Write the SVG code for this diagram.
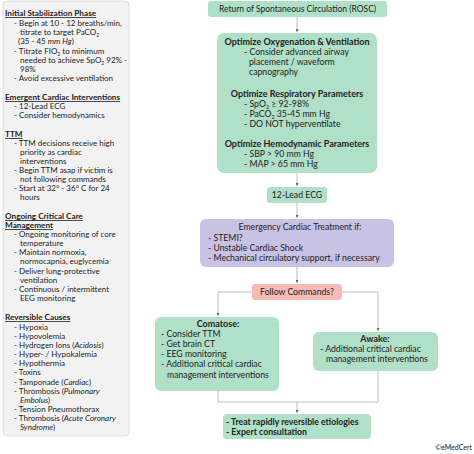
<svg xmlns="http://www.w3.org/2000/svg" width="474" height="454" viewBox="0 0 474 454">
<style>
text{font-family:Lato,"Noto Sans","Liberation Sans",sans-serif;fill:#222;}
.l{font-size:8px;}
.lh{font-size:8.2px;font-weight:bold;text-decoration:underline;}
.t{font-size:8.7px;}
.h{font-size:9px;font-weight:bold;text-anchor:middle;}
.c{text-anchor:middle;}
.g{fill:#b0e0c8;}
.conn{stroke:#bdbdbd;stroke-width:1;fill:none;}
</style>
<defs>
<marker id="ar" viewBox="0 0 4 4" refX="4" refY="2" markerWidth="3" markerHeight="3" orient="auto"><path d="M0,0L4,2L0,4z" fill="#666"/></marker>
</defs>
<rect width="474" height="454" fill="#ffffff"/>
<g id="left-panel">
<rect x="3" y="1" width="126" height="435" rx="4" fill="#f2f2f2" stroke="#d8d8d8" stroke-width="0.8"/>
<text class="lh" x="5" y="16">Initial Stabilization Phase</text>
<text class="l" x="14" y="26">- Begin at 10 - 12 breaths/min,</text>
<text class="l" x="20" y="35">titrate to target PaCO<tspan font-size="5" dy="1.5">2</tspan></text>
<text class="l" x="18" y="44">(35 - 45 <tspan font-style="italic">mm Hg</tspan>)</text>
<text class="l" x="14" y="54">- Titrate FIO<tspan font-size="5" dy="1.5">2</tspan><tspan dy="-1.5"> to minimum</tspan></text>
<text class="l" x="20" y="63">needed to achieve SpO<tspan font-size="5" dy="1.5">2</tspan><tspan dy="-1.5"> 92% -</tspan></text>
<text class="l" x="20" y="72">98%</text>
<text class="l" x="14" y="81">- Avoid excessive ventilation</text>
<text class="lh" x="5" y="100">Emergent Cardiac Interventions</text>
<text class="l" x="14" y="109">- 12-Lead ECG</text>
<text class="l" x="14" y="118">- Consider hemodynamics</text>
<text class="lh" x="5" y="137">TTM</text>
<text class="l" x="14" y="146">- TTM decisions receive high</text>
<text class="l" x="20" y="155">priority as cardiac</text>
<text class="l" x="20" y="164">interventions</text>
<text class="l" x="14" y="173">- Begin TTM asap if victim is</text>
<text class="l" x="20" y="182">not following commands</text>
<text class="l" x="14" y="191">- Start at 32° - 36° C for 24</text>
<text class="l" x="20" y="200">hours</text>
<text class="lh" x="5" y="219">Ongoing Critical Care</text>
<text class="lh" x="5" y="228">Management</text>
<text class="l" x="14" y="237">- Ongoing monitoring of core</text>
<text class="l" x="20" y="246">temperature</text>
<text class="l" x="14" y="255">- Maintain normoxia,</text>
<text class="l" x="20" y="264">normocapnia, euglycemia</text>
<text class="l" x="14" y="274">- Deliver lung-protective</text>
<text class="l" x="20" y="283">ventilation</text>
<text class="l" x="14" y="292">- Continuous / intermittent</text>
<text class="l" x="20" y="301">EEG monitoring</text>
<text class="lh" x="5" y="320">Reversible Causes</text>
<text class="l" x="14" y="330">- Hypoxia</text>
<text class="l" x="14" y="339">- Hypovolemia</text>
<text class="l" x="14" y="348">- Hydrogen Ions (<tspan font-style="italic">Acidosis</tspan>)</text>
<text class="l" x="14" y="357">- Hyper- / Hypokalemia</text>
<text class="l" x="14" y="366">- Hypothermia</text>
<text class="l" x="14" y="375">- Toxins</text>
<text class="l" x="14" y="385">- Tamponade (<tspan font-style="italic">Cardiac</tspan>)</text>
<text class="l" x="14" y="394">- Thrombosis (<tspan font-style="italic">Pulmonary</tspan></text>
<text class="l" x="20" y="403"><tspan font-style="italic">Embolus</tspan>)</text>
<text class="l" x="14" y="412">- Tension Pneumothorax</text>
<text class="l" x="14" y="421">- Thrombosis (<tspan font-style="italic">Acute Coronary</tspan></text>
<text class="l" x="20" y="430"><tspan font-style="italic">Syndrome</tspan>)</text>
</g>
<g id="connectors">
<path class="conn" d="M297,17V32" marker-end="url(#ar)"/>
<path class="conn" d="M297,173V186" marker-end="url(#ar)"/>
<path class="conn" d="M297,203V218" marker-end="url(#ar)"/>
<path class="conn" d="M297,267V283" marker-end="url(#ar)"/>
<path class="conn" d="M252,292H218V316" marker-end="url(#ar)"/>
<path class="conn" d="M342,292H378V331" marker-end="url(#ar)"/>
<path class="conn" d="M218,391V402H378V371"/>
<path class="conn" d="M297,402V413" marker-end="url(#ar)"/>
</g>
<g id="rosc">
<rect class="g" x="208" y="1" width="179" height="16" rx="3"/>
<text class="c" font-size="8.5" x="297.5" y="12">Return of Spontaneous Circulation (ROSC)</text>
</g>
<g id="optimize">
<rect class="g" x="217" y="33" width="160" height="140" rx="7"/>
<text class="h" x="297" y="45">Optimize Oxygenation &amp; Ventilation</text>
<text class="t" x="244" y="55">- Consider advanced airway</text>
<text class="t" x="249" y="65">placement / waveform</text>
<text class="t" x="249" y="75">capnography</text>
<text class="h" x="297" y="97">Optimize Respiratory Parameters</text>
<text class="t" x="244" y="107">- SpO<tspan font-size="5.5" dy="1.5">2</tspan><tspan dy="-1.5"> ≥ 92-98%</tspan></text>
<text class="t" x="244" y="117">- PaCO<tspan font-size="5.5" dy="1.5">2</tspan><tspan dy="-1.5"> 35-45 mm Hg</tspan></text>
<text class="t" x="244" y="127">- DO NOT hyperventilate</text>
<text class="h" x="297" y="147">Optimize Hemodynamic Parameters</text>
<text class="t" x="244" y="157">- SBP &gt; 90 mm Hg</text>
<text class="t" x="244" y="167">- MAP &gt; 65 mm Hg</text>
</g>
<g id="ecg">
<rect class="g" x="267" y="187" width="60" height="16" rx="3"/>
<text class="t c" x="297" y="198">12-Lead ECG</text>
</g>
<g id="emergency">
<rect x="200" y="219" width="194" height="48" rx="6" fill="#c8c3e5"/>
<text class="t c" x="300" y="230">Emergency Cardiac Treatment if:</text>
<text class="t" x="208" y="241">- STEMI?</text>
<text class="t" x="208" y="251">- Unstable Cardiac Shock</text>
<text class="t" x="208" y="261">- Mechanical circulatory support, if necessary</text>
</g>
<g id="follow">
<rect x="252" y="284" width="90" height="16" rx="3" fill="#f6bbb6"/>
<text class="t c" x="297" y="295">Follow Commands?</text>
</g>
<g id="comatose">
<rect class="g" x="155" y="317" width="124" height="74" rx="6"/>
<text class="h" x="218" y="327">Comatose:</text>
<text class="t" x="161" y="337">- Consider TTM</text>
<text class="t" x="161" y="347">- Get brain CT</text>
<text class="t" x="161" y="357">- EEG monitoring</text>
<text class="t" x="161" y="367">- Additional critical cardiac</text>
<text class="t" x="167" y="378">management interventions</text>
</g>
<g id="awake">
<rect class="g" x="313" y="332" width="125" height="39" rx="6"/>
<text class="h" x="375" y="342">Awake:</text>
<text class="t" x="320" y="352">- Additional critical cardiac</text>
<text class="t" x="326" y="362">management interventions</text>
</g>
<g id="treat">
<rect class="g" x="223" y="414" width="148" height="25" rx="4"/>
<text class="t" x="226" y="425" font-weight="bold">- Treat rapidly reversible etiologies</text>
<text class="t" x="226" y="435" font-weight="bold">- Expert consultation</text>
</g>
<text x="472" y="450" font-size="7" text-anchor="end">©eMedCert</text>
</svg>
